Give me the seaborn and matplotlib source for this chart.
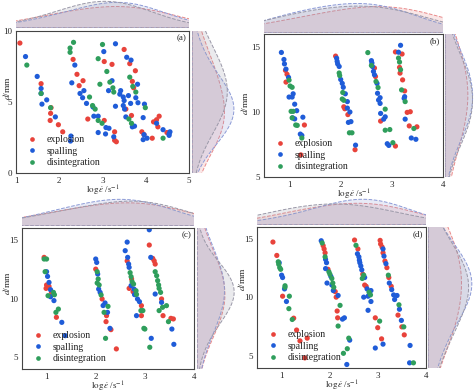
import matplotlib
matplotlib.use('Agg')
import matplotlib.pyplot as plt
import seaborn as sns
import pandas as pd

# ---- data: (log strain rate, d/mm) ----
a_explosion = [(1.09, 9.15), (1.58, 6.29), (1.81, 4.6), (1.80, 4.2), (1.79, 3.7), (1.98, 3.4), (2.08, 2.9),
               (2.32, 8.0), (2.41, 6.95), (2.55, 6.5), (2.46, 6.15), (2.66, 3.8), (3.04, 7.85), (3.22, 7.65),
               (3.04, 3.7), (3.28, 2.3), (3.32, 2.2), (3.28, 2.9), (3.50, 8.7), (3.63, 7.7), (3.76, 7.2),
               (3.69, 6.45), (3.72, 6.0), (3.67, 4.05), (3.54, 4.5), (3.91, 2.9), (3.96, 2.7), (4.15, 2.45),
               (4.25, 3.75), (4.31, 4.0), (4.28, 3.25), (4.49, 2.85), (4.18, 3.6)]
a_spalling = [(1.22, 8.2), (1.49, 6.8), (1.58, 5.95), (1.58, 5.6), (1.60, 4.85), (1.71, 5.15), (1.91, 3.95),
              (2.27, 2.6), (2.26, 2.25), (2.29, 6.35), (2.36, 7.6), (2.48, 5.6), (2.57, 5.8), (2.54, 5.3),
              (2.63, 4.9), (2.78, 4.65), (2.90, 4.0), (2.80, 4.0), (2.90, 2.85), (3.07, 2.75), (3.08, 3.2),
              (3.15, 3.15), (3.26, 2.55), (3.30, 9.1), (3.03, 8.55), (3.14, 5.8), (3.22, 6.5), (3.40, 5.55),
              (3.30, 4.7), (3.48, 5.35), (3.50, 5.1), (3.48, 4.75), (3.51, 4.5), (3.54, 3.95), (3.56, 8.15),
              (3.66, 7.95), (3.42, 5.8), (3.60, 5.45), (3.77, 5.3), (3.82, 4.95), (3.65, 4.9), (3.81, 6.25),
              (3.97, 4.85), (3.94, 3.9), (3.69, 3.25), (3.74, 3.3), (3.96, 2.7), (3.94, 2.35), (4.03, 2.45),
              (4.25, 3.5), (4.40, 3.05), (4.54, 2.75), (4.56, 2.9), (4.54, 2.65)]
a_disintegration = [(1.25, 7.6), (1.58, 5.6), (1.80, 4.6), (2.33, 9.2), (2.25, 8.8), (2.25, 8.5), (2.70, 5.35),
                    (2.77, 4.75), (2.83, 4.5), (2.90, 3.7), (2.99, 3.5), (3.00, 9.05), (2.90, 8.05), (2.94, 6.25),
                    (3.10, 7.15), (3.17, 6.4), (3.24, 6.0), (3.26, 5.7), (3.63, 6.75), (3.70, 6.1), (3.77, 5.7),
                    (3.99, 4.6), (3.61, 3.8), (3.67, 3.5), (4.40, 2.45)]

b_explosion = [(0.92, 13.2), (0.95, 12.9), (0.93, 12.3), (1.29, 9.0), (1.22, 6.7), (1.90, 14.3), (2.06, 10.4),
               (2.08, 10.25), (2.14, 9.8), (2.28, 7.1), (2.66, 13.38), (2.68, 12.73), (2.78, 9.3), (3.07, 7.38),
               (3.07, 14.62), (3.20, 14.46), (3.15, 13.43), (3.16, 12.99), (3.21, 12.47), (3.25, 11.62),
               (3.30, 9.97), (3.36, 10.02), (3.34, 8.93), (3.49, 8.86)]
b_spalling = [(0.84, 14.58), (0.89, 14.04), (0.90, 13.7), (0.93, 13.3), (0.98, 12.66), (0.99, 11.15), (1.05, 11.15),
              (1.07, 11.4), (1.10, 10.6), (1.14, 10.1), (1.06, 9.55), (1.10, 9.47), (1.26, 9.6), (1.21, 8.3),
              (1.24, 8.2), (1.92, 14.14), (1.93, 13.9), (1.94, 13.7), (1.97, 13.5), (2.00, 12.5), (2.03, 12.2),
              (2.05, 11.9), (2.09, 11.4), (2.13, 10.8), (2.13, 10.3), (2.18, 10.0), (2.15, 9.2), (2.20, 9.26),
              (2.29, 7.45), (2.60, 13.95), (2.61, 13.77), (2.62, 13.5), (2.64, 13.12), (2.66, 12.86), (2.71, 12.2),
              (2.72, 11.44), (2.77, 11.1), (2.74, 10.92), (2.77, 10.66), (2.78, 9.89), (2.87, 9.63), (2.84, 9.45),
              (2.91, 7.56), (2.94, 7.43), (3.17, 15.13), (3.13, 14.6), (3.24, 11.05), (3.25, 11.18), (3.26, 9.45),
              (3.38, 8.0), (3.47, 7.9)]
b_disintegration = [(0.99, 12.45), (1.01, 12.0), (1.05, 11.9), (1.03, 10.05), (1.07, 10.05), (1.05, 9.55),
                    (1.12, 9.0), (1.15, 8.97), (1.24, 8.0), (1.97, 13.0), (1.98, 12.8), (2.04, 11.5), (2.03, 11.0),
                    (2.06, 10.9), (2.17, 8.4), (2.22, 8.4), (2.53, 14.57), (2.60, 13.58), (2.69, 12.35),
                    (2.73, 11.88), (2.87, 10.22), (2.87, 8.6), (2.96, 8.65), (3.02, 7.64), (3.13, 14.15),
                    (3.15, 13.84), (3.17, 13.25), (3.19, 11.7), (3.26, 10.8), (3.43, 8.73)]

c_explosion = [(0.95, 13.5), (1.00, 11.15), (1.05, 11.03), (0.99, 10.86), (1.10, 10.52), (1.20, 8.4), (2.00, 12.5),
               (2.13, 9.96), (2.22, 8.54), (2.21, 8.03), (2.31, 7.35), (2.42, 5.71), (2.64, 13.2), (2.73, 11.66),
               (2.68, 10.86), (2.76, 10.58), (2.93, 9.39), (2.93, 8.54), (3.09, 14.55), (3.16, 13.41), (3.19, 13.2),
               (3.21, 12.93), (3.34, 9.96), (3.37, 8.54), (3.53, 8.31), (3.58, 8.26)]
c_spalling = [(1.00, 12.28), (1.02, 11.88), (1.05, 11.37), (1.08, 10.75), (1.08, 10.15), (1.15, 9.82), (1.31, 7.97),
              (1.38, 6.84), (2.00, 13.36), (2.02, 13.07), (2.04, 12.08), (2.06, 10.8), (2.09, 10.52), (2.19, 9.62),
              (2.15, 9.4), (2.24, 8.82), (2.29, 7.46), (2.64, 14.8), (2.60, 14.07), (2.65, 13.5), (2.67, 12.93),
              (2.68, 12.65), (2.72, 11.1), (2.78, 10.8), (2.79, 10.33), (2.85, 9.96), (2.89, 9.73), (2.83, 8.54),
              (3.13, 6.61), (3.09, 15.85), (3.12, 13.5), (3.21, 10.38), (3.34, 9.67), (3.55, 7.4), (3.59, 6.1)]
c_disintegration = [(0.95, 13.36), (1.00, 13.36), (0.97, 12.28), (1.14, 10.52), (1.16, 10.32), (1.03, 10.24),
                    (1.19, 8.82), (1.24, 9.1), (2.03, 12.28), (2.05, 11.66), (2.03, 11.32), (2.07, 11.15),
                    (2.11, 10.3), (2.25, 9.33), (2.17, 8.82), (2.20, 6.61), (2.70, 12.2), (2.72, 11.86),
                    (2.74, 11.43), (2.77, 11.23), (2.82, 10.66), (2.83, 10.35), (2.92, 8.97), (2.96, 8.97),
                    (2.98, 7.46), (3.00, 7.4), (3.10, 5.85), (3.21, 12.28), (3.24, 11.94), (3.26, 11.52),
                    (3.28, 11.15), (3.29, 10.86), (3.32, 10.52), (3.36, 9.25), (3.44, 9.39), (3.29, 8.97), (3.48, 8.03)]

d_explosion = [(0.83, 14.72), (0.91, 13.58), (1.03, 10.11), (1.26, 8.24), (1.32, 7.23), (1.39, 6.31), (1.54, 6.54),
               (1.49, 4.86), (1.87, 14.41), (1.89, 14.13), (1.91, 13.8), (1.97, 12.4), (2.12, 10.5), (2.14, 10.03),
               (2.16, 8.85), (2.17, 8.27), (2.52, 14.89), (2.59, 14.13), (2.69, 11.98), (2.73, 11.06), (2.76, 10.95),
               (2.95, 8.27), (3.00, 7.43), (3.08, 6.48), (3.05, 14.86), (3.06, 14.55), (3.09, 14.3), (3.11, 13.8),
               (3.15, 13.1), (3.19, 12.54), (3.23, 11.7), (3.28, 10.95), (3.42, 8.5), (3.50, 7.5), (3.55, 6.82)]
d_spalling = [(0.96, 12.96), (1.01, 11.9), (1.03, 11.7), (1.07, 10.73), (1.11, 9.66), (1.83, 14.83), (1.92, 13.24),
              (1.94, 12.96), (1.92, 12.46), (2.03, 11.79), (1.95, 11.23), (2.05, 11.06), (2.08, 10.59), (2.18, 10.17),
              (2.27, 8.16), (2.31, 8.27), (2.42, 6.37), (2.36, 4.3), (2.58, 13.72), (2.61, 13.46), (2.62, 13.18),
              (2.63, 12.96), (2.65, 12.68), (2.67, 12.35), (2.73, 11.7), (2.78, 10.73), (2.86, 10.59), (2.71, 10.03),
              (2.80, 10.11), (2.86, 9.66), (2.80, 8.91), (2.95, 5.7), (3.11, 6.03), (3.11, 14.13), (3.13, 13.52),
              (3.17, 12.88), (3.24, 11.23), (3.29, 10.67), (3.33, 10.22), (3.40, 10.17), (3.35, 9.83), (3.45, 9.0),
              (3.49, 8.05), (3.67, 5.92), (3.66, 4.44)]
d_disintegration = [(0.94, 13.04), (0.95, 12.82), (0.97, 12.54), (0.99, 12.4), (1.08, 11.0), (1.08, 10.87),
                    (1.17, 10.11), (1.16, 9.05), (1.23, 8.13), (1.85, 14.64), (1.91, 13.46), (1.99, 12.18),
                    (2.01, 11.98), (2.05, 11.62), (2.07, 11.23), (2.09, 10.87), (2.22, 9.33), (2.18, 7.57),
                    (2.40, 6.54), (2.37, 5.64), (2.29, 5.25), (2.55, 14.44), (2.71, 11.9), (2.68, 11.62),
                    (2.82, 10.45), (2.85, 10.22), (3.04, 7.99), (3.22, 11.9), (3.44, 9.38), (3.54, 7.5), (3.74, 4.44)]

classes = ['explosion', 'spalling', 'disintegration']
dot_colors = ['#e8433b', '#1f5cd8', '#2f9e5c']
kde_colors = ['#e98a8a', '#8c9ad6', '#9a98a8']


def make_df(exp, spa, dis):
    rows = []
    for name, pts in zip(classes, [exp, spa, dis]):
        for x, y in pts:
            rows.append({'x': x, 'y': y, 'class': name})
    return pd.DataFrame(rows)


sns.set_style('white')
plt.rcParams['font.family'] = ['Liberation Serif', 'DejaVu Serif']
plt.rcParams['mathtext.fontset'] = 'stix'

W, H = 474, 392
fig = plt.figure(figsize=(W / 100, H / 100), dpi=100)


def px_axes(x0, y0, x1, y1):
    # pixel box (top-left origin) -> figure axes
    return fig.add_axes([x0 / W, 1 - y1 / H, (x1 - x0) / W, (y1 - y0) / H])


def panel(df, main_box, top_box, right_box, xlim, ylim, xticks, yticks, tag, ylab_x, ylab_y):
    ax = px_axes(*main_box)
    top = px_axes(*top_box)
    right = px_axes(*right_box)

    sns.scatterplot(data=df, x='x', y='y', hue='class', hue_order=classes, palette=dot_colors,
                    s=14, linewidth=0, ax=ax)
    ax.set_xlim(*xlim)
    ax.set_ylim(*ylim)
    ax.set_xticks(xticks)
    ax.set_yticks(yticks)
    ax.tick_params(labelsize=6.5, length=2, width=0.5, pad=0.8, direction='out')
    ax.set_xlabel(r'$\log\dot{\varepsilon}$ /s$^{-1}$', fontsize=6.5)
    ax.xaxis.set_label_coords(0.5, -0.074)
    ax.xaxis.label.set_va('top')
    ax.set_ylabel(r'$d$/mm', fontsize=6.8)
    ax.yaxis.set_label_coords(ylab_x, ylab_y)
    for sp in ax.spines.values():
        sp.set_color('#444444')
        sp.set_linewidth(0.8)
    ax.text(0.985, 0.975, tag, transform=ax.transAxes, ha='right', va='top', fontsize=6.5)
    leg = ax.legend(loc='lower left', frameon=False, fontsize=7, handletextpad=0.6,
                    labelspacing=0.25, borderaxespad=0.2, markerscale=0.9)
    for t in leg.get_texts():
        t.set_color('#222222')

    for name, col in zip(classes, kde_colors):
        sub = df[df['class'] == name]
        sns.kdeplot(x=sub['x'], ax=top, color=col, fill=True, alpha=0.2, linewidth=0.7,
                    linestyle='--', bw_adjust=2.2)
        sns.kdeplot(y=sub['y'], ax=right, color=col, fill=True, alpha=0.2, linewidth=0.7,
                    linestyle='--', bw_adjust=2.2)
    top.set_xlim(*xlim)
    top.set_ylim(bottom=0)
    right.set_ylim(*ylim)
    right.set_xlim(left=0)
    top.axis('off')
    right.axis('off')


panel(make_df(a_explosion, a_spalling, a_disintegration),
      (16, 31, 189, 173), (16, 0, 189, 28), (192, 31, 236, 173),
      (1, 5), (0, 10), [1, 2, 3, 4, 5], [0, 5, 10], '(a)', -0.022, 0.6)
panel(make_df(b_explosion, b_spalling, b_disintegration),
      (264, 34, 443, 177), (264, 2, 443, 33), (445, 34, 474, 177),
      (0.5, 4), (5, 16), [1, 2, 3, 4], [5, 10, 15], '(b)', -0.078, 0.52)
panel(make_df(c_explosion, c_spalling, c_disintegration),
      (22, 228, 194, 369), (22, 198, 194, 226), (197, 228, 236, 369),
      (0.5, 4), (4, 16), [1, 2, 3, 4], [5, 10, 15], '(c)', -0.058, 0.61)
panel(make_df(d_explosion, d_spalling, d_disintegration),
      (257, 227, 426, 368), (257, 198, 426, 225), (428, 227, 474, 368),
      (0.5, 4), (4, 16), [1, 2, 3, 4], [5, 10, 15], '(d)', -0.06, 0.63)

fig.savefig('out.png', dpi=100)
